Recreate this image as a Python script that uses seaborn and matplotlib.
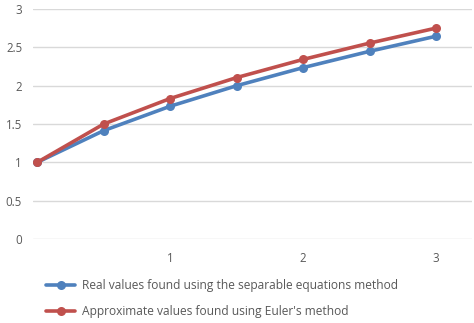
import matplotlib
matplotlib.use("Agg")
import matplotlib.pyplot as plt
import seaborn as sns
import pandas as pd

x_values = [0, 0.5, 1, 1.5, 2, 2.5, 3]
real_values = [1.0, 1.414, 1.732, 2.0, 2.236, 2.449, 2.646]
euler_values = [1.0, 1.5, 1.833, 2.106, 2.343, 2.556, 2.752]
series_names = ["Real values found using the separable equations method",
                "Approximate values found using Euler's method"]
y_ticks = [0, 0.5, 1, 1.5, 2, 2.5, 3]
x_ticks = [1, 2, 3]

df = pd.DataFrame({
    "x": x_values * 2,
    "y": real_values + euler_values,
    "series": [series_names[0]] * len(x_values) + [series_names[1]] * len(x_values),
})

sns.set_style("white")
plt.rcParams["font.family"] = ["Open Sans", "DejaVu Sans"]

fig = plt.figure(figsize=(4.74, 3.23), dpi=100)
ax = fig.add_axes([0.070, 0.260, 0.926, 0.712])
palette = {series_names[0]: "#4F81BD", series_names[1]: "#C0504D"}
sns.lineplot(data=df, x="x", y="y", hue="series", palette=palette, marker="o",
             markersize=6.5, markeredgewidth=0, linewidth=2.6, ax=ax, legend=False)

ax.set_xlim(-0.03, 3.27)
ax.set_ylim(0, 3)
ax.set_yticks(y_ticks)
ax.set_yticklabels(["0", "0.5", "1", "1.5", "2", "2.5", "3"])
ax.set_xticks(x_ticks)
ax.set_xticklabels([str(t) for t in x_ticks])
ax.grid(axis="y", color="#D9D9D9", linewidth=1)
ax.set_axisbelow(True)
for s in ax.spines.values():
    s.set_visible(False)
ax.tick_params(axis="both", length=0, labelsize=8.3, colors="#595959")
ax.tick_params(axis="x", pad=9)
ax.tick_params(axis="y", pad=8)
ax.set_xlabel("")
ax.set_ylabel("")

from matplotlib.lines import Line2D
handles = [Line2D([], [], color=palette[n], linewidth=2.6, marker="o", markersize=6.5, markeredgewidth=0)
           for n in series_names]
fig.legend(handles, series_names, loc="upper left", bbox_to_anchor=(0.098, 0.137),
           frameon=False, fontsize=8.65, labelcolor="#595959", handlelength=2.4,
           handletextpad=0.55, labelspacing=1.1, borderaxespad=0, borderpad=0)

fig.savefig("out.png", dpi=100)
